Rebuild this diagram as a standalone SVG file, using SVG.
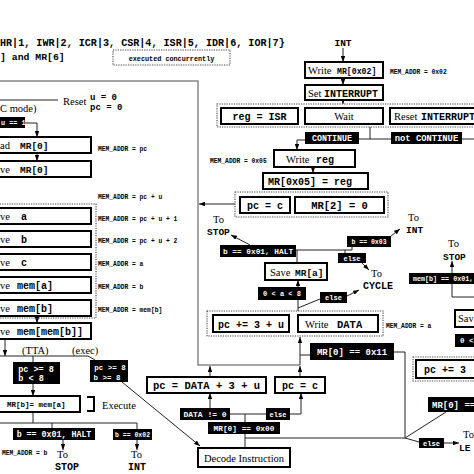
<svg xmlns="http://www.w3.org/2000/svg" width="474" height="474" viewBox="0 0 474 474">
<defs>
<style>
.box{fill:#fff;stroke:#000;stroke-width:2}
.blk{fill:#000}
.dot{fill:none;stroke:#444;stroke-width:1.1;stroke-dasharray:1.2 1.2}
.ln{fill:none;stroke:#222;stroke-width:1}
.gr{fill:none;stroke:#888;stroke-width:1.5}
.s{font-family:"Liberation Serif","Times New Roman",serif;font-size:10.5px;fill:#000}
.m{font-family:"Liberation Mono","Courier New",monospace;font-weight:bold;fill:#000}
.w{font-family:"Liberation Mono","Courier New",monospace;font-weight:bold;fill:#fff;text-anchor:middle}
.lb{font-family:"Liberation Mono","Courier New",monospace;font-weight:bold;font-size:6.3px;fill:#000}
</style>
<marker id="ah" viewBox="0 0 8 6" refX="8" refY="3" markerWidth="6" markerHeight="4.5" markerUnits="userSpaceOnUse" orient="auto"><path d="M0,0 L8,3 L0,6 z" fill="#000"/></marker>
</defs>
<rect width="474" height="474" fill="#fff"/>

<g id="header">
<text class="m" x="0" y="46" font-size="10.1">HR|1, IWR|2, ICR|3, CSR|4, ISR|5, IDR|6, IOR|7}</text>
<text class="m" x="0" y="59.5" font-size="9.8">] and MR[6]</text>
<rect class="dot" x="113" y="50" width="117" height="15"/>
<text class="m" x="171.5" y="60.5" font-size="6.8" text-anchor="middle">executed concurrently</text>
</g>

<g id="reset">
<text class="s" x="63" y="105">Reset</text>
<text class="m" x="90" y="100" font-size="9">u = 0</text>
<text class="m" x="90" y="110" font-size="9">pc = 0</text>
<text class="s" x="0" y="112">C mode)</text>
</g>

<g id="connectors">
<path class="gr" d="M0,81 H198 V365 H300"/>
<path class="ln" d="M0,100 H58"/>
<path class="ln" d="M25,123 H37 V137" marker-end="url(#ah)"/>
<path class="ln" d="M37,153 V161" marker-end="url(#ah)"/>
<path class="ln" d="M37,316 V323" marker-end="url(#ah)"/>
<path class="ln" d="M5,339 V356" marker-end="url(#ah)"/>
<path class="ln" d="M0,356 H88 L95,360"/>
<path class="ln" d="M33,356 V362"/>
<path class="ln" d="M122,382 L200,446" marker-end="url(#ah)"/>
<path class="ln" d="M33,384 V396" marker-end="url(#ah)"/>
<path class="ln" d="M33,412 V423 M0,423 H137 V429 M52,423 V428"/>
<path class="ln" d="M63,440 V450" marker-end="url(#ah)"/>
<path class="ln" d="M137,440 V450" marker-end="url(#ah)"/>
<path class="ln" d="M210,377 V366" marker-end="url(#ah)"/>
<path class="ln" d="M300,377 V366" marker-end="url(#ah)"/>
<path class="ln" d="M300,365 V337" marker-end="url(#ah)"/>
<path class="ln" d="M300,355 H310"/>
<path class="ln" d="M210,408 V393" marker-end="url(#ah)"/>
<path class="ln" d="M290,414 H301 V393" marker-end="url(#ah)"/>
<path class="ln" d="M230,414 H266 M245,414 V422 M245,434 V448 M245,438 H405 V352 H394"/>
<path class="ln" d="M405,438 L446,412 M405,438 L419,442"/>
<path class="ln" d="M444,443 H459" marker-end="url(#ah)"/>
<path class="ln" d="M343,48 V62" marker-end="url(#ah)"/>
<path class="ln" d="M343,78 V85" marker-end="url(#ah)"/>
<path class="ln" d="M343,100 V104" marker-end="url(#ah)"/>
<path class="ln" d="M370,127 V139 M359,139 H391 M462,139 H474"/>
<path class="ln" d="M305,140 H297 V150" marker-end="url(#ah)"/>
<path class="ln" d="M313,167 V173" marker-end="url(#ah)"/>
<path class="ln" d="M235,204 H199" marker-end="url(#ah)"/>
<path class="ln" d="M250,245 L231,235" marker-end="url(#ah)"/>
<path class="ln" d="M391,236 L400,229" marker-end="url(#ah)"/>
<path class="ln" d="M296,250 H352 V247 M297,250 V263 M345,250 V253"/>
<path class="ln" d="M298,287 V280" marker-end="url(#ah)"/>
<path class="ln" d="M298,311 V300 M298,308 L320,299"/>
<path class="ln" d="M362,263 L369,270" marker-end="url(#ah)"/>
<path class="ln" d="M347,296 L359,290" marker-end="url(#ah)"/>
<path class="ln" d="M452,273 V261" marker-end="url(#ah)"/>
<path class="ln" d="M452,284 V297 H474"/>
</g>

<g id="cond-u1"><rect class="blk" x="-3" y="117" width="28" height="11"/><text class="m" x="1" y="125" font-size="6.8" style="fill:#fff">u == 1</text></g>
<g id="read-mr0"><rect class="box" x="-5" y="137" width="96" height="16"/><text class="s" x="0" y="149">ad</text><text class="m" x="20" y="149" font-size="9.5">MR[0]</text></g>
<g id="save-mr0"><rect class="box" x="-5" y="161" width="96" height="16"/><text class="s" x="0" y="173">ve</text><text class="m" x="20" y="173" font-size="9.5">MR[0]</text></g>
<g id="labels-left">
<text class="lb" x="98" y="151">MEM_ADDR = pc</text>
<text class="lb" x="98" y="199">MEM_ADDR = pc + u</text>
<text class="lb" x="98" y="221">MEM_ADDR = pc + u + 1</text>
<text class="lb" x="98" y="243">MEM_ADDR = pc + u + 2</text>
<text class="lb" x="98" y="266">MEM_ADDR = a</text>
<text class="lb" x="98" y="289">MEM_ADDR = b</text>
<text class="lb" x="98" y="312">MEM_ADDR = mem[b]</text>
</g>
<rect class="dot" x="-5" y="204" width="101" height="114"/>
<g id="save-a"><rect class="box" x="-5" y="208" width="96" height="16"/><text class="s" x="0" y="220">ve</text><text class="m" x="21" y="220" font-size="10">a</text></g>
<g id="save-b"><rect class="box" x="-5" y="231" width="96" height="16"/><text class="s" x="0" y="243">ve</text><text class="m" x="21" y="243" font-size="10">b</text></g>
<g id="save-c"><rect class="box" x="-5" y="254" width="96" height="16"/><text class="s" x="0" y="266">ve</text><text class="m" x="21" y="266" font-size="10">c</text></g>
<g id="save-mema"><rect class="box" x="-5" y="277" width="96" height="16"/><text class="s" x="0" y="289">ve</text><text class="m" x="17" y="289" font-size="10">mem[a]</text></g>
<g id="save-memb"><rect class="box" x="-5" y="300" width="96" height="16"/><text class="s" x="0" y="312">ve</text><text class="m" x="17" y="312" font-size="10">mem[b]</text></g>
<g id="save-memmemb"><rect class="box" x="-5" y="323" width="96" height="16"/><text class="s" x="0" y="335">ve</text><text class="m" x="17" y="335" font-size="10">mem[mem[b]]</text></g>
<g id="tta-exec"><text class="s" x="22" y="354">(TTA)</text><text class="s" x="72" y="354">(exec)</text></g>
<g id="cond-tta"><rect class="blk" x="13" y="362" width="47" height="22"/><text class="w" x="36" y="372" font-size="8.5">pc &gt;= 8</text><text class="w" x="31" y="381" font-size="8.5">b &lt; 8</text></g>
<g id="cond-exec"><rect class="blk" x="90" y="360" width="38" height="22"/><text class="w" x="110" y="370" font-size="7.5">pc &gt;= 8</text><text class="w" x="107" y="379.5" font-size="7.5">b &gt;= 8</text></g>
<g id="mrb-mema"><rect class="box" x="-5" y="396" width="85" height="16"/><text class="m" x="7" y="407" font-size="7.5">MR[b]= mem[a]</text></g>
<g id="execute"><path d="M87,397 H94 V411 H87" fill="none" stroke="#000" stroke-width="2"/><text class="s" x="102" y="409">Execute</text></g>
<g id="halt-left"><rect class="blk" x="13" y="428" width="82" height="12"/><text class="w" x="54" y="437" font-size="8.3">b == 0x01, HALT</text></g>
<g id="b02"><rect class="blk" x="113" y="429" width="39" height="11"/><text class="w" x="132.5" y="437" font-size="6.5">b == 0x02</text></g>
<text class="lb" x="2" y="455">MEM_ADDR = b</text>
<g id="to-stop-1"><text class="s" x="57" y="458">To</text><text class="m" x="55" y="470" font-size="10">STOP</text></g>
<g id="to-int-1"><text class="s" x="131" y="458">To</text><text class="m" x="128" y="470" font-size="10">INT</text></g>

<g id="int-top"><text class="m" x="343" y="46" font-size="9.5" text-anchor="middle">INT</text></g>
<g id="write-mr02"><rect class="box" x="305" y="62" width="78" height="16"/><text class="s" x="308" y="74">Write</text><text class="m" x="337" y="74" font-size="8.2">MR[0x02]</text></g>
<text class="lb" x="390" y="74">MEM_ADDR = 0x02</text>
<g id="set-int"><rect class="box" x="305" y="85" width="78" height="15"/><text class="s" x="308" y="96.5">Set</text><text class="m" x="324" y="96.5" font-size="10">INTERRUPT</text></g>
<rect class="dot" x="217" y="104" width="270" height="23"/>
<g id="reg-isr"><rect class="box" x="221" y="108" width="77" height="16"/><text class="m" x="259.5" y="120" font-size="10" text-anchor="middle">reg = ISR</text></g>
<g id="wait"><rect class="box" x="305" y="108" width="78" height="16"/><text class="s" x="344" y="120" text-anchor="middle">Wait</text></g>
<g id="reset-int"><rect class="box" x="390" y="108" width="95" height="16"/><text class="s" x="394" y="120">Reset</text><text class="m" x="421" y="120" font-size="10">INTERRUPT</text></g>
<g id="continue"><rect class="blk" x="305" y="132" width="54" height="12"/><text class="w" x="332" y="141" font-size="8.3">CONTINUE</text></g>
<g id="not-continue"><rect class="blk" x="391" y="132" width="71" height="12"/><text class="w" x="426.5" y="141" font-size="8.8">not CONTINUE</text></g>
<g id="write-reg"><rect class="box" x="274" y="150" width="81" height="17"/><text class="s" x="286" y="163">Write</text><text class="m" x="316" y="163" font-size="10">reg</text></g>
<text class="lb" x="210" y="163">MEM_ADDR = 0x05</text>
<g id="mr05-reg"><rect class="box" x="263" y="173" width="105" height="16"/><text class="m" x="268" y="185" font-size="10">MR[0x05] = reg</text></g>
<rect class="dot" x="235" y="192" width="153" height="25"/>
<g id="pc-c-top"><rect class="box" x="240" y="197" width="50" height="16"/><text class="m" x="265" y="209" font-size="10" text-anchor="middle">pc = c</text></g>
<g id="mr2-0"><rect class="box" x="295" y="197" width="89" height="16"/><text class="m" x="339.5" y="209" font-size="10.5" text-anchor="middle">MR[2] = 0</text></g>
<g id="to-stop-2"><text class="s" x="213" y="223">To</text><text class="m" x="207" y="235" font-size="9.5">STOP</text></g>
<g id="halt-mid"><rect class="blk" x="220" y="245" width="76" height="12"/><text class="w" x="258" y="254" font-size="7.8">b == 0x01, HALT</text></g>
<g id="to-int-2"><text class="s" x="408" y="221">To</text><text class="m" x="406" y="233" font-size="9.5">INT</text></g>
<g id="b03"><rect class="blk" x="347" y="236" width="44" height="11"/><text class="w" x="369" y="244" font-size="6.5">b == 0x03</text></g>
<g id="else1"><rect class="blk" x="338" y="253" width="28" height="10"/><text class="w" x="352" y="260.5" font-size="7">else</text></g>
<g id="to-cycle"><text class="s" x="371" y="277">To</text><text class="m" x="363" y="289" font-size="10">CYCLE</text></g>
<g id="save-mra"><rect class="box" x="265" y="263" width="62" height="17"/><text class="s" x="270" y="276">Save</text><text class="m" x="295" y="276" font-size="9.5">MR[a]</text></g>
<g id="a-range"><rect class="blk" x="258" y="287" width="48" height="13"/><text class="w" x="282" y="296" font-size="7">0 &lt; a &lt; 8</text></g>
<g id="else2"><rect class="blk" x="320" y="292" width="27" height="11"/><text class="w" x="333.5" y="300" font-size="7">else</text></g>
<rect class="dot" x="207" y="311" width="176" height="25"/>
<g id="pc-3u"><rect class="box" x="213" y="315" width="76" height="17"/><text class="m" x="251" y="327.5" font-size="10" text-anchor="middle">pc += 3 + u</text></g>
<g id="write-data"><rect class="box" x="298" y="315" width="80" height="17"/><text class="s" x="305" y="327.5">Write</text><text class="m" x="337" y="327.5" font-size="10.5">DATA</text></g>
<text class="lb" x="386" y="328">MEM_ADDR = a</text>
<g id="mr0-11"><rect class="blk" x="310" y="343" width="84" height="17"/><text class="w" x="352" y="354.5" font-size="9">MR[0] == 0x11</text></g>

<g id="to-stop-3"><text class="s" x="448" y="247">To</text><text class="m" x="443" y="260" font-size="9.5">STOP</text></g>
<g id="memb-01"><rect class="blk" x="409" y="273" width="70" height="11"/><text class="m" x="413" y="281" font-size="6.7" style="fill:#fff">mem[b] == 0x01,</text></g>
<g id="save-right"><rect class="box" x="455" y="310" width="30" height="17"/><text class="s" x="458" y="322">Sav</text></g>
<g id="range-right"><rect class="blk" x="455" y="334" width="25" height="13"/><text class="m" x="460" y="343" font-size="7.5" style="fill:#fff">0 &lt;</text></g>
<rect class="dot" x="413" y="357" width="70" height="24"/>
<g id="pc-3"><rect class="box" x="416" y="360" width="65" height="18"/><text class="m" x="424" y="373" font-size="10">pc += 3</text></g>
<g id="mr0-right"><rect class="blk" x="428" y="397" width="50" height="15"/><text class="m" x="432" y="408" font-size="9" style="fill:#fff">MR[0] ==</text></g>
<g id="else3"><rect class="blk" x="419" y="438" width="25" height="10"/><text class="w" x="431.5" y="445.5" font-size="7">else</text></g>
<g id="to-le"><text class="s" x="463" y="438">To</text><text class="m" x="459" y="451" font-size="9.5">LE</text></g>

<g id="pc-data"><rect class="box" x="147" y="377" width="119" height="16"/><text class="m" x="206.5" y="389" font-size="10.5" text-anchor="middle">pc = DATA + 3 + u</text></g>
<g id="pc-c-bottom"><rect class="box" x="275" y="377" width="50" height="16"/><text class="m" x="300" y="389" font-size="10" text-anchor="middle">pc = c</text></g>
<g id="data-ne0"><rect class="blk" x="180" y="408" width="50" height="12"/><text class="w" x="205" y="417" font-size="8">DATA != 0</text></g>
<g id="else4"><rect class="blk" x="266" y="408" width="24" height="12"/><text class="w" x="278" y="417" font-size="7">else</text></g>
<g id="mr0-00"><rect class="blk" x="208" y="422" width="72" height="12"/><text class="w" x="244" y="431" font-size="7.8">MR[0] == 0x00</text></g>
<g id="decode"><rect class="box" x="198" y="448" width="92" height="19"/><text class="s" x="244" y="461.5" text-anchor="middle">Decode Instruction</text></g>
</svg>
